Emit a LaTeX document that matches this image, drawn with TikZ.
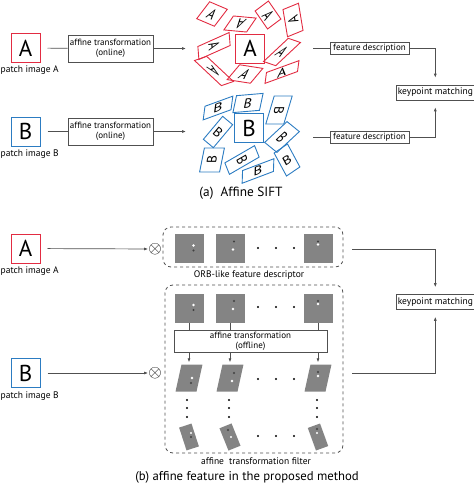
\documentclass[tikz,border=0pt]{standalone}
\usepackage{fontspec}
\setmainfont{PT Sans}
\usetikzlibrary{positioning,arrows.meta}
\definecolor{patchred}{RGB}{226,44,66}
\definecolor{patchblue}{RGB}{44,124,194}
\definecolor{linegray}{RGB}{80,80,80}
\definecolor{cellgray}{RGB}{132,132,132}
\begin{document}
\begin{tikzpicture}[x=1pt,y=-1pt,
	patch/.style={draw,inner sep=0pt,minimum size=29pt,line width=1pt,font=\fontsize{23}{23}\selectfont},
	proc/.style={draw=linegray,line width=0.6pt,inner sep=1pt,align=center,font=\fontsize{9}{10}\selectfont},
	lbl/.style={inner sep=0pt,font=\fontsize{9.5}{11}\selectfont},
	cell/.style={draw,line width=0.9pt,inner sep=0pt,font=\fontsize{13.5}{13.5}\selectfont},
	gsq/.style={fill=cellgray,inner sep=0pt,minimum size=29pt},
	conn/.style={draw=linegray,line width=0.7pt},
	arr/.style={conn,-{Latex[length=4pt,width=3pt]}},
	mult/.style={inner sep=0pt,font=\fontsize{16}{16}\selectfont},
	dbox/.style={draw=linegray,dashed,rounded corners=8pt,line width=0.8pt}]
	\useasboundingbox (0,0) rectangle (474,485);
	% (a) affine SIFT
	\node[patch,draw=patchred] (pa) at (25.5,48) {A};
	\node[lbl,anchor=north west] (pla) at (0.5,66) {patch image A};
	\node[patch,draw=patchblue] (pb) at (25.5,131.5) {B};
	\node[lbl,anchor=north west] (plb) at (0.5,150) {patch image B};
	\node[proc,minimum width=85pt,minimum height=27pt] (ta) at (110.5,48.5) {affine transformation\\(online)};
	\node[proc,minimum width=85pt,minimum height=27pt] (tb) at (110.5,131.5) {affine transformation\\(online)};
	\coordinate (ina) at (186,48.5); \coordinate (inb) at (186,131.5);
	\draw[conn,shorten <=7pt] (pa) -- (ta); \draw[arr] (ta) -- (ina);
	\draw[conn,shorten <=7pt] (pb) -- (tb); \draw[arr] (tb) -- (inb);
	\node[patch,draw=patchred] (a0) at (250,48.5) {A};
	\foreach \x/\y/\w/\h/\s/\r [count=\i] in {212/14/22/18/0.4/-20, 240/24/24/14/0.6/175, 268/15/28/13/0.5/-40,
		293/20/30/15/0.3/115, 214/46/15/28/0.5/-60, 282/52/16/24/0.8/-15, 214/71/16/26/-0.8/195,
		245/74/26/15/0.7/-8, 282/72/28/12/0.6/25}
		\node[cell,draw=patchred,minimum width=\w,minimum height=\h,xslant=\s,rotate=\r] (a\i) at (\x,\y) {A};
	\node[patch,draw=patchblue] (b0) at (249,128) {B};
	\foreach \x/\y/\w/\h/\s/\r [count=\i] in {218/108/24/15/0.6/25, 248/103/26/17/0.3/5, 279/110/28/18/0.3/-90,
		218/132/13/30/0/-40, 282/137/20/24/0.5/-30, 212/160/24/20/0.2/90, 242/160/14/30/0.3/-55,
		258/171/28/14/0.5/25, 287/160/14/30/0.3/40}
		\node[cell,draw=patchblue,minimum width=\w,minimum height=\h,xslant=\s,rotate=\r] (b\i) at (\x,\y) {B};
	\coordinate (outa) at (313,48.5); \coordinate (outb) at (313,137.5);
	\node[proc,minimum width=79pt,minimum height=12pt] (fa) at (369.5,48.5) {feature description};
	\node[proc,minimum width=79pt,minimum height=12pt] (fb) at (369.5,137.5) {feature description};
	\node[proc,minimum width=79pt,minimum height=15pt,anchor=west,font=\fontsize{9.5}{10}\selectfont] (km) at (395.5,92.5) {keypoint matching};
	\draw[conn] (outa) -- (fa); \draw[conn] (outb) -- (fb);
	\draw[arr,shorten >=7pt] (fa) -| (km);
	\draw[arr,shorten >=7pt] (fb) -| (km);
	\node[font=\fontsize{13.3}{14}\selectfont] (capa) at (241,193) {(a)\ \ Affine SIFT};
	% (b) proposed method
	\node[patch,draw=patchred] (pa2) at (25.5,248.5) {A};
	\node[lbl,anchor=north west] (pla2) at (0.5,267) {patch image A};
	\node[patch,draw=patchblue] (pb2) at (25.5,373) {B};
	\node[lbl,anchor=north west] (plb2) at (0.5,391.5) {patch image B};
	\node[mult] (oa) at (155,249) {$\otimes$};
	\node[mult] (ob) at (155,373) {$\otimes$};
	\draw[arr,shorten <=7pt] (pa2) -- (oa);
	\draw[arr,shorten <=7pt] (pb2) -- (ob);
	\node[dbox,minimum width=180pt,minimum height=40pt] (orb) at (253,247) {};
	\node[lbl] (lorb) at (249,275) {ORB-like feature descriptor};
	\node[dbox,minimum width=178pt,minimum height=168pt] (atf) at (254,369) {};
	\node[lbl] (latf) at (256,461) {affine\ \ transformation filter};
	\node[font=\fontsize{12.7}{13}\selectfont] (capb) at (247,477) {(b) affine feature in the proposed method};
	\node[proc,minimum width=153pt,minimum height=22pt] (tf) at (250.5,341) {affine transformation\\(offline)};
	\node[proc,minimum width=79pt,minimum height=15pt,anchor=west,font=\fontsize{9.5}{10}\selectfont] (km2) at (395.5,302) {keypoint matching};
	\draw[arr,shorten <=9pt,shorten >=7pt] (orb.east |- oa) -| (km2);
	\draw[arr,shorten <=9pt,shorten >=7pt] (atf.east |- ob) -| (km2);
	\foreach \x/\wx/\wy/\dx/\dy [count=\i] in {189.5/4/-3/4/2, 230/3/1/4/-7, 318/0/-4/0/-7}{
		\node[gsq] (s\i) at (\x,248.5) {};
		\node[gsq] (t\i) at (\x,308) {};
		\fill[white] (\x+\wx,248.5+\wy) circle (1.3pt) (\x+\wx,308+\wy) circle (1.3pt);
		\fill[black!75] (\x+\dx,248.5+\dy) circle (1.2pt) (\x+\dx,308+\dy) circle (1.2pt);
		\draw[conn] (t\i) -- (t\i |- tf.north);
	}
	\foreach \x/\wx/\wy/\dx/\dy [count=\i] in {189/3/0/2/5, 230/2/3/4/-5, 318/0/-2/0/-6}{
		\node[gsq,minimum width=21pt,minimum height=27pt,xslant=0.22] (p\i) at (\x,378) {};
		\fill[white] (\x+\wx,378+\wy) circle (1.3pt);
		\fill[black!75] (\x+\dx,378+\dy) circle (1.2pt);
		\draw[arr,shorten >=2pt] (tf.south -| p\i) -- (p\i.north -| p\i);
	}
	\foreach \x/\r/\wx/\wy/\dx/\dy [count=\i] in {189/18/2/-4/2/0, 230/22/1/0/-2/-7, 318/20/-1/-4/-1/-8}{
		\node[gsq,minimum width=13pt,minimum height=24pt,rotate=\r] (r\i) at (\x,437) {};
		\fill[white] (\x+\wx,437+\wy) circle (1.2pt);
		\fill[black!75] (\x+\dx,437+\dy) circle (1.1pt);
	}
	\foreach \x in {187,229,317} \foreach \y in {400,408,417} \fill (\x,\y) circle (1.1pt);
	\foreach \y in {248,307,379,436} \foreach \x in {258,276,294} \fill (\x,\y) circle (1.1pt);
\end{tikzpicture}
\end{document}
